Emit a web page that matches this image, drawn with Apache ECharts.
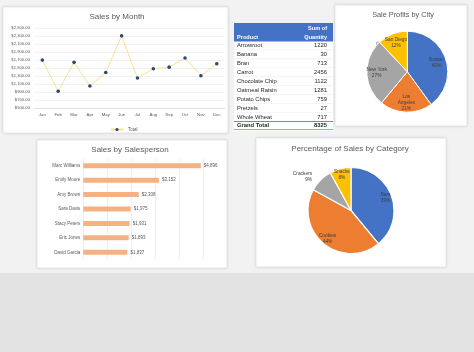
<!DOCTYPE html>
<html><head><meta charset="utf-8">
<script src="https://cdn.jsdelivr.net/npm/echarts@6/dist/echarts.min.js"></script>
<style>html,body{margin:0;padding:0;background:#f2f2f2}#c{width:474px;height:352px}</style>
</head><body><div id="c"></div>
<script>
const months = ['Jan','Feb','Mar','Apr','May','Jun','Jul','Aug','Sep','Oct','Nov','Dec'];
const monthlySales = [1700, 925, 1645, 1055, 1390, 2305, 1255, 1485, 1525, 1752, 1310, 1610];
const salespeople = ['Marc Williams','Emily Moore','Amy Brown','Sara Davis','Stacy Peters','Eric Jones','David Garcia'];
const salesBySalesperson = [4896, 3152, 2308, 1975, 1931, 1893, 1837];
const cities = ['Boston','Los Angeles','New York','San Diego'];
const cityShare = [40, 21, 27, 12];
const categories = ['Bars','Cookies','Crackers','Snacks'];
const categoryShare = [39, 44, 9, 8];
const products = ['Arrowroot','Banana','Bran','Carrot','Chocolate Chip','Oatmeal Raisin','Potato Chips','Pretzels','Whole Wheat'];
const quantities = [1220, 30, 713, 2456, 1122, 1281, 759, 27, 717];
const grandTotalLabel = 'Grand Total';
const grandTotal = 8325;

const FONT = '"Liberation Sans", Arial, sans-serif';
const TXT = '#595959';
const pieColors = ['#4472c4','#ed7d31','#a5a5a5','#ffc000'];

const chart = echarts.init(document.getElementById('c'), null, {renderer:'canvas'});

function panel(x, y, w, h) {
  return {type:'rect', z:-5, shape:{x, y, width:w, height:h},
    style:{fill:'#ffffff', stroke:'#dcdcdc', lineWidth:0.5, shadowBlur:3, shadowColor:'rgba(0,0,0,0.12)'}};
}
function title(text, x, y, size) {
  return {type:'text', z:10, x, y, style:{text, fill:TXT, font:'normal ' + size + 'px ' + FONT, align:'center', verticalAlign:'middle'}};
}

// table graphics
const tableX = 234, tableW = 99, tableRight = 327, rowY0 = 45.3, rowH = 8.96;
const tableEls = [
  {type:'rect', z:-4, shape:{x:tableX, y:23, width:tableW, height:108}, style:{fill:'#ffffff'}},
  {type:'rect', z:-3, shape:{x:tableX, y:23, width:tableW, height:18.5}, style:{fill:'#4472c4'}},
  {type:'text', z:10, x:237, y:37.6, style:{text:'Product', fill:'#ffffff', font:'bold 5.6px ' + FONT, align:'left', verticalAlign:'middle'}},
  {type:'text', z:10, x:tableRight, y:28.4, style:{text:'Sum of', fill:'#ffffff', font:'bold 5.6px ' + FONT, align:'right', verticalAlign:'middle'}},
  {type:'text', z:10, x:tableRight, y:37.6, style:{text:'Quantity', fill:'#ffffff', font:'bold 5.6px ' + FONT, align:'right', verticalAlign:'middle'}}
];
products.forEach((p, i) => {
  const y = rowY0 + i * rowH;
  tableEls.push({type:'text', z:10, x:237, y, style:{text:p, fill:'#262626', font:'normal 5.8px ' + FONT, align:'left', verticalAlign:'middle'}});
  tableEls.push({type:'text', z:10, x:tableRight, y, style:{text:String(quantities[i]), fill:'#262626', font:'normal 5.8px ' + FONT, align:'right', verticalAlign:'middle'}});
  tableEls.push({type:'line', z:-2, shape:{x1:tableX, y1:y + rowH/2, x2:tableX + tableW, y2:y + rowH/2}, style:{stroke:'#e4e9f3', lineWidth:0.5}});
});
tableEls.push({type:'line', z:-1, shape:{x1:tableX, y1:121.5, x2:tableX + tableW, y2:121.5}, style:{stroke:'#4472c4', lineWidth:0.8}});
tableEls.push({type:'line', z:-1, shape:{x1:tableX, y1:129.5, x2:tableX + tableW, y2:129.5}, style:{stroke:'#4472c4', lineWidth:0.6}});
tableEls.push({type:'text', z:10, x:237, y:125.3, style:{text:grandTotalLabel, fill:'#262626', font:'bold 5.8px ' + FONT, align:'left', verticalAlign:'middle'}});
tableEls.push({type:'text', z:10, x:tableRight, y:125.3, style:{text:String(grandTotal), fill:'#262626', font:'bold 5.8px ' + FONT, align:'right', verticalAlign:'middle'}});

function pushOut(cx, cy, k, skip) {
  return function (p) {
    if (skip && skip.indexOf(p.dataIndex) >= 0) return {};
    const r = p.labelRect;
    const lx = r.x + r.width / 2, ly = r.y + r.height / 2;
    const nx = cx + (lx - cx) * k, ny = cy + (ly - cy) * k;
    let ax = nx, ay = ny;
    if (p.align === 'left') ax = nx - r.width / 2; else if (p.align === 'right') ax = nx + r.width / 2;
    if (p.verticalAlign === 'top') ay = ny - r.height / 2; else if (p.verticalAlign === 'bottom') ay = ny + r.height / 2;
    return {x: ax, y: ay};
  };
}

const option = {
  animation: false,
  textStyle: {fontFamily: FONT},
  graphic: [
    {type:'rect', z:-10, shape:{x:0, y:0, width:474, height:273}, style:{fill:'#f2f2f2'}},
    {type:'rect', z:-10, shape:{x:0, y:273, width:474, height:79}, style:{fill:'#e3e3e3'}},
    panel(3, 7, 225, 126),
    panel(335, 5, 132, 121),
    panel(37, 140, 190, 128),
    panel(256, 138, 190, 129),
    title('Sales by Month', 117, 16.5, 8),
    title('Sale Profits by City', 403, 15, 7.3),
    title('Sales by Salesperson', 130, 150, 8),
    title('Percentage of Sales by Category', 350, 149, 8)
  ].concat(tableEls),
  legend: {
    data: ['Total'], left: 105, top: 122, itemWidth: 12, itemHeight: 4, itemGap: 4,
    textStyle: {fontSize: 4.5, color: TXT}
  },
  grid: [
    {left: 34.4, right: 249.3, top: 28, bottom: 243.7},
    {left: 83.3, right: 270.7, top: 158.5, bottom: 92.5}
  ],
  xAxis: [
    {gridIndex:0, type:'category', data: months, boundaryGap: true,
     axisLine:{lineStyle:{color:'#d9d9d9', width:0.6}}, axisTick:{show:false},
     axisLabel:{fontSize:4.3, color:TXT, margin:5}},
    {gridIndex:1, type:'value', min:0, max:5000, interval:1000,
     axisLine:{show:false}, axisTick:{show:false}, axisLabel:{show:false},
     splitLine:{lineStyle:{color:'#e3e3e3', width:0.6}}}
  ],
  yAxis: [
    {gridIndex:0, type:'value', min:500, max:2500, interval:200,
     axisLine:{show:false}, axisTick:{show:false},
     axisLabel:{fontSize:4.2, color:TXT, margin:4.4,
       formatter: v => '$' + v.toLocaleString('en-US', {minimumFractionDigits:2, maximumFractionDigits:2})},
     splitLine:{lineStyle:{color:'#e6e6e6', width:0.6}}},
    {gridIndex:1, type:'category', data: salespeople, inverse: true,
     axisLine:{show:false}, axisTick:{show:false},
     axisLabel:{fontSize:4.5, color:TXT, margin:3}}
  ],
  series: [
    {name:'Total', type:'line', xAxisIndex:0, yAxisIndex:0, data: monthlySales,
     symbol:'circle', symbolSize:3.6, itemStyle:{color:'#2c4677'},
     lineStyle:{color:'#f9df95', width:1}},
    {name:'Sales', type:'bar', xAxisIndex:1, yAxisIndex:1, data: salesBySalesperson,
     barWidth:5, itemStyle:{color:'#f4b183'},
     label:{show:true, position:'right', distance:3, fontSize:4.5, color:TXT,
       formatter: p => '$' + p.value.toLocaleString('en-US')}},
    {name:'City', type:'pie', center:[407.3, 71.7], radius:40.5, startAngle:90, clockwise:true,
     data: cities.map((c, i) => ({name:c, value:cityShare[i]})),
     color: pieColors,
     itemStyle:{borderColor:'#ffffff', borderWidth:1},
     label:{show:true, position:'inside', fontSize:4.8, color:'#404040', lineHeight:6,
       formatter: p => (p.name === 'Los Angeles' ? 'Los\nAngeles' : p.name) + '\n' + p.value + '%'},
     labelLayout: pushOut(407.3, 71.7, 1.32),
     emphasis:{disabled:true}},
    {name:'Category', type:'pie', center:[351, 210.5], radius:43, startAngle:90, clockwise:true,
     data: categories.map((c, i) => ({name:c, value:categoryShare[i],
       label: c === 'Crackers' ? {position:'outside', color:'#404040'} : undefined,
       labelLine: c === 'Crackers' ? {show:false, length:5, length2:0} : undefined})),
     color: pieColors,
     itemStyle:{borderColor:'#ffffff', borderWidth:1.2},
     label:{show:true, position:'inside', fontSize:4.8, color:'#404040', lineHeight:6,
       formatter: p => p.name + '\n' + p.value + '%'},
     labelLine:{show:false, length:5, length2:0},
     labelLayout: pushOut(351, 210.5, 1.5, [2]),
     emphasis:{disabled:true}}
  ]
};
chart.setOption(option);
</script>
</body></html>
